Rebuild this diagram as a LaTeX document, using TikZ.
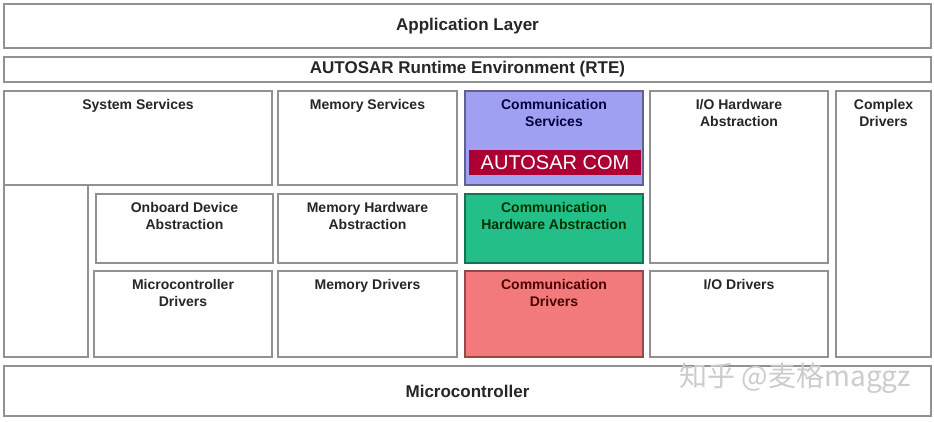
\documentclass[tikz,border=0pt]{standalone}
\usepackage{fontspec}
\setmainfont{Liberation Sans}
\newfontfamily\cjkfont{Noto Sans CJK SC}
\usepackage{xcolor}
\definecolor{comserv}{RGB}{160,160,242}
\definecolor{comhw}{RGB}{36,190,136}
\definecolor{comred}{RGB}{172,0,52}
\definecolor{comdrv}{RGB}{242,122,122}
\definecolor{edge}{RGB}{145,145,145}

\begin{document}
\begin{tikzpicture}[x=1pt,y=-1pt,
  box/.style={draw=edge,line width=1.6pt},
  lbl/.style={anchor=north,inner sep=0pt,align=center,font=\fontsize{14}{17}\selectfont\bfseries,text=black!85},
  big/.style={inner sep=0pt,font=\fontsize{17}{20}\selectfont\bfseries,text=black!85}]
\useasboundingbox (0,0) rectangle (934,422);
\fill[white] (0,0) rectangle (934,422);
\draw[box] (4,4) rectangle (931,48);
\node[big] (app) at (467.5,26) {Application Layer};
\draw[box] (4,57) rectangle (931,82);
\node[big] (rte) at (467.5,69.5) {AUTOSAR Runtime Environment (RTE)};
\draw[box] (4,91) rectangle (272,185);
\draw[box] (4,185) rectangle (88,357);
\node[lbl] (sysserv) at (138,99) {System Services};
\draw[box] (278,91) rectangle (457,185);
\node[lbl] (memserv) at (367.5,99) {Memory Services};
\fill[comserv] (465,91) rectangle (643,185);
\draw[box,draw=comserv!60!black] (465,91) rectangle (643,185);
\node[lbl,text=blue!25!black] (comserv) at (554,99) {Communication\\Services};
\fill[comred] (469,150) rectangle (641,175);
\node[inner sep=0pt,font=\fontsize{20}{22}\selectfont,text=white] (com) at (555,162.5) {AUTOSAR COM};
\draw[box] (650,91) rectangle (828,263);
\node[lbl] (iohw) at (739,99) {I/O Hardware\\Abstraction};
\draw[box] (836,91) rectangle (931,357);
\node[lbl] (cdd) at (883.5,99) {Complex\\Drivers};
\draw[box] (96,194) rectangle (273,263);
\node[lbl] (onboard) at (184.5,202) {Onboard Device\\Abstraction};
\draw[box] (278,194) rectangle (457,263);
\node[lbl] (memhw) at (367.5,202) {Memory Hardware\\Abstraction};
\fill[comhw] (465,194) rectangle (643,263);
\draw[box,draw=comhw!60!black] (465,194) rectangle (643,263);
\node[lbl,text=green!20!black] (comhw) at (554,202) {Communication\\Hardware Abstraction};
\draw[box] (94,271) rectangle (272,357);
\node[lbl] (mcudrv) at (183,279) {Microcontroller\\Drivers};
\draw[box] (278,271) rectangle (457,357);
\node[lbl] (memdrv) at (367.5,279) {Memory Drivers};
\fill[comdrv] (465,271) rectangle (643,357);
\draw[box,draw=comdrv!60!black] (465,271) rectangle (643,357);
\node[lbl,text=red!30!black] (comdrv) at (554,279) {Communication\\Drivers};
\draw[box] (650,271) rectangle (828,357);
\node[lbl] (iodrv) at (739,279) {I/O Drivers};
\draw[box] (4,366) rectangle (931,416);
\node[big] (mcu) at (467.5,391) {Microcontroller};
\node[inner sep=0pt,font=\cjkfont\fontsize{28}{30}\selectfont,text=gray!40] (mark) at (795,378) {知乎 @麦格maggz};
\end{tikzpicture}
\end{document}
